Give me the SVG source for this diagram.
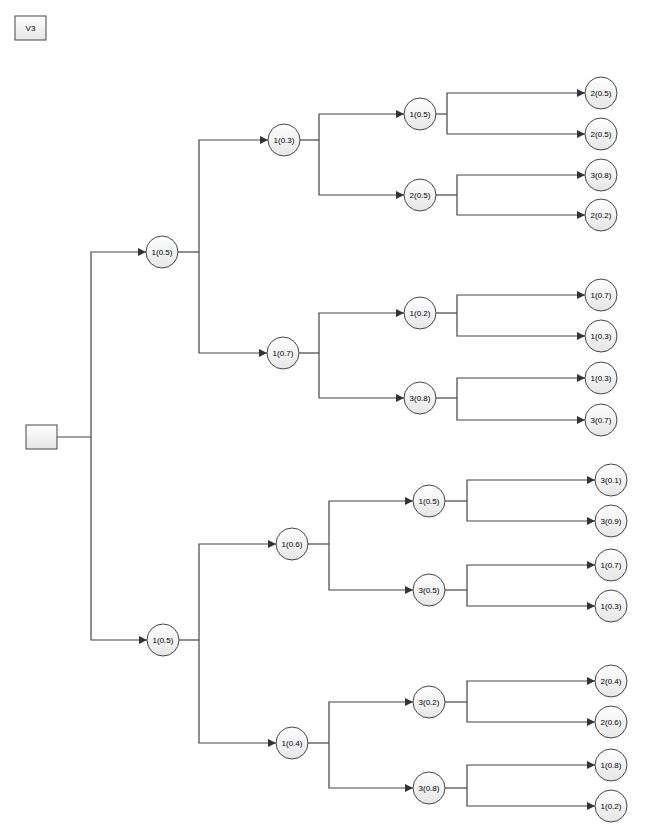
<svg xmlns="http://www.w3.org/2000/svg" width="661" height="838" viewBox="0 0 661 838">
<style>
.n{fill:url(#g);stroke:#444;stroke-width:1}
.t{font-family:"Liberation Sans",sans-serif;font-size:8px;fill:#000;text-anchor:middle;dominant-baseline:central}
.c path{fill:none;stroke:#444;stroke-width:1.2}
.a{marker-end:url(#m)}
</style>
<defs>
<linearGradient id="g" x1="0" y1="0" x2="0" y2="1"><stop offset="0" stop-color="#fff"/><stop offset="1" stop-color="#e6e6e6"/></linearGradient>
<marker id="m" viewBox="0 0 10 10" refX="10" refY="5" markerWidth="8" markerHeight="8" markerUnits="userSpaceOnUse" orient="auto"><path d="M0,0L10,5L0,10z" fill="#333"/></marker>
</defs>
<rect width="661" height="838" fill="#fff"/>
<g id="v3"><rect x="15" y="16" width="31" height="24" class="n"/><text x="30.5" y="28" class="t">V3</text></g>
<g id="root"><rect x="26" y="425" width="31" height="24" class="n"/></g>
<g class="c">
<path d="M57,437H91"/>
<path class="a" d="M91,437V252H146"/><path class="a" d="M91,437V640H147"/>
<path d="M178,252H199"/><path class="a" d="M199,252V140H268"/><path class="a" d="M199,252V353H267"/>
<path d="M300,140H319"/><path class="a" d="M319,140V114H404"/><path class="a" d="M319,140V195H404"/>
<path d="M436,114H447"/><path class="a" d="M447,114V93H585"/><path class="a" d="M447,114V134H585"/>
<path d="M436,195H457"/><path class="a" d="M457,195V175H585"/><path class="a" d="M457,195V215H585"/>
<path d="M299,353H319"/><path class="a" d="M319,353V313H404"/><path class="a" d="M319,353V398H404"/>
<path d="M436,313H457"/><path class="a" d="M457,313V295H585"/><path class="a" d="M457,313V336H585"/>
<path d="M436,398H457"/><path class="a" d="M457,398V378H585"/><path class="a" d="M457,398V420H585"/>
<path d="M179,640H199"/><path class="a" d="M199,640V544H276"/><path class="a" d="M199,640V743H276"/>
<path d="M308,544H329"/><path class="a" d="M329,544V501H413"/><path class="a" d="M329,544V590H413"/>
<path d="M445,501H467"/><path class="a" d="M467,501V480H595"/><path class="a" d="M467,501V521H595"/>
<path d="M445,590H467"/><path class="a" d="M467,590V565H595"/><path class="a" d="M467,590V606H595"/>
<path d="M308,743H329"/><path class="a" d="M329,743V702H413"/><path class="a" d="M329,743V788H413"/>
<path d="M445,702H467"/><path class="a" d="M467,702V681H595"/><path class="a" d="M467,702V722H595"/>
<path d="M445,788H467"/><path class="a" d="M467,788V765H595"/><path class="a" d="M467,788V806H595"/>
</g>
<g id="a"><circle cx="162" cy="252" r="16" class="n"/><text x="162" y="252" class="t">1(0.5)</text></g>
<g id="b"><circle cx="163" cy="640" r="16" class="n"/><text x="163" y="640" class="t">1(0.5)</text></g>
<g id="a1"><circle cx="284" cy="140" r="16" class="n"/><text x="284" y="140" class="t">1(0.3)</text></g>
<g id="a2"><circle cx="283" cy="353" r="16" class="n"/><text x="283" y="353" class="t">1(0.7)</text></g>
<g id="a11"><circle cx="420" cy="114" r="16" class="n"/><text x="420" y="114" class="t">1(0.5)</text></g>
<g id="a12"><circle cx="420" cy="195" r="16" class="n"/><text x="420" y="195" class="t">2(0.5)</text></g>
<g id="a21"><circle cx="420" cy="313" r="16" class="n"/><text x="420" y="313" class="t">1(0.2)</text></g>
<g id="a22"><circle cx="420" cy="398" r="16" class="n"/><text x="420" y="398" class="t">3(0.8)</text></g>
<g id="l1"><circle cx="601" cy="93" r="16" class="n"/><text x="601" y="93" class="t">2(0.5)</text></g>
<g id="l2"><circle cx="601" cy="134" r="16" class="n"/><text x="601" y="134" class="t">2(0.5)</text></g>
<g id="l3"><circle cx="601" cy="175" r="16" class="n"/><text x="601" y="175" class="t">3(0.8)</text></g>
<g id="l4"><circle cx="601" cy="215" r="16" class="n"/><text x="601" y="215" class="t">2(0.2)</text></g>
<g id="l5"><circle cx="601" cy="295" r="16" class="n"/><text x="601" y="295" class="t">1(0.7)</text></g>
<g id="l6"><circle cx="601" cy="336" r="16" class="n"/><text x="601" y="336" class="t">1(0.3)</text></g>
<g id="l7"><circle cx="601" cy="378" r="16" class="n"/><text x="601" y="378" class="t">1(0.3)</text></g>
<g id="l8"><circle cx="601" cy="420" r="16" class="n"/><text x="601" y="420" class="t">3(0.7)</text></g>
<g id="b1"><circle cx="292" cy="544" r="16" class="n"/><text x="292" y="544" class="t">1(0.6)</text></g>
<g id="b2"><circle cx="292" cy="743" r="16" class="n"/><text x="292" y="743" class="t">1(0.4)</text></g>
<g id="b11"><circle cx="429" cy="501" r="16" class="n"/><text x="429" y="501" class="t">1(0.5)</text></g>
<g id="b12"><circle cx="429" cy="590" r="16" class="n"/><text x="429" y="590" class="t">3(0.5)</text></g>
<g id="b21"><circle cx="429" cy="702" r="16" class="n"/><text x="429" y="702" class="t">3(0.2)</text></g>
<g id="b22"><circle cx="429" cy="788" r="16" class="n"/><text x="429" y="788" class="t">3(0.8)</text></g>
<g id="m1"><circle cx="611" cy="480" r="16" class="n"/><text x="611" y="480" class="t">3(0.1)</text></g>
<g id="m2"><circle cx="611" cy="521" r="16" class="n"/><text x="611" y="521" class="t">3(0.9)</text></g>
<g id="m3"><circle cx="611" cy="565" r="16" class="n"/><text x="611" y="565" class="t">1(0.7)</text></g>
<g id="m4"><circle cx="611" cy="606" r="16" class="n"/><text x="611" y="606" class="t">1(0.3)</text></g>
<g id="m5"><circle cx="611" cy="681" r="16" class="n"/><text x="611" y="681" class="t">2(0.4)</text></g>
<g id="m6"><circle cx="611" cy="722" r="16" class="n"/><text x="611" y="722" class="t">2(0.6)</text></g>
<g id="m7"><circle cx="611" cy="765" r="16" class="n"/><text x="611" y="765" class="t">1(0.8)</text></g>
<g id="m8"><circle cx="611" cy="806" r="16" class="n"/><text x="611" y="806" class="t">1(0.2)</text></g>
</svg>
